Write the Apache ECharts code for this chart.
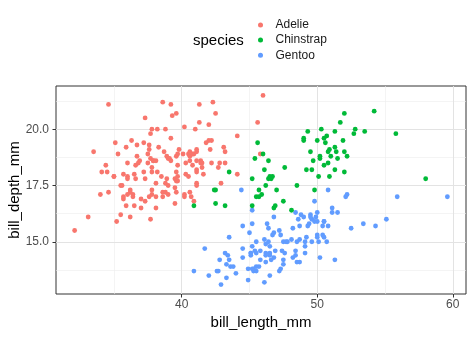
<!DOCTYPE html>
<html>
<head>
<meta charset="utf-8">
<script src="https://cdn.jsdelivr.net/npm/echarts@6/dist/echarts.min.js"></script>
<style>
  html, body { margin: 0; padding: 0; background: #fff; }
  #chart { width: 474px; height: 338px; }
</style>
</head>
<body>
<div id="chart"></div>
<script>
// Palmer penguins: bill length vs bill depth, by species
const speciesNames = ['Adelie', 'Chinstrap', 'Gentoo'];

// [bill_length_mm, bill_depth_mm]
const adelie = [
  [39.1,18.7],[39.5,17.4],[40.3,18.0],[36.7,19.3],[39.3,20.6],[38.9,17.8],[39.2,19.6],[34.1,18.1],
  [42.0,20.2],[37.8,17.1],[37.8,17.3],[41.1,17.6],[38.6,21.2],[34.6,21.1],[36.6,17.8],[38.7,19.0],
  [42.5,20.7],[34.4,18.4],[46.0,21.5],[37.8,18.3],[37.7,18.7],[35.9,19.2],[38.2,18.1],[38.8,17.2],
  [35.3,18.9],[40.6,18.6],[40.5,17.9],[37.9,18.6],[40.5,18.9],[39.5,16.7],[37.2,18.1],[39.5,17.8],
  [40.9,18.9],[36.4,17.0],[39.2,21.1],[38.8,20.0],[42.2,18.5],[37.6,19.3],[39.8,19.1],[36.5,18.0],
  [40.8,18.4],[36.0,18.5],[44.1,19.7],[37.0,16.9],[39.6,18.8],[41.1,19.0],[37.5,18.9],[36.0,17.9],
  [42.3,21.2],[39.6,17.7],[40.1,18.9],[35.0,17.9],[42.0,19.5],[34.5,18.1],[41.4,18.6],[39.0,17.5],
  [40.6,18.8],[36.5,16.6],[37.6,19.1],[35.7,16.9],[41.3,21.1],[37.6,17.0],[41.1,18.2],[36.4,17.1],
  [41.6,18.0],[35.5,16.2],[41.1,19.1],[35.9,16.6],[41.8,19.4],[33.5,19.0],[39.7,18.4],[39.6,17.2],
  [45.8,18.9],[35.5,17.5],[42.8,18.5],[40.9,16.8],[37.2,19.4],[36.2,16.1],[42.1,19.1],[34.6,17.2],
  [42.9,17.6],[36.7,18.8],[35.1,19.4],[37.3,17.8],[41.3,20.3],[36.3,19.5],[36.9,18.6],[38.3,19.2],
  [38.9,18.8],[35.7,18.0],[41.1,18.1],[34.0,17.1],[39.6,18.1],[36.2,17.3],[40.8,18.9],[38.1,18.6],
  [40.3,18.5],[33.1,16.1],[43.2,18.5],[35.0,17.9],[41.0,20.0],[37.7,16.0],[37.8,20.0],[37.9,18.6],
  [39.7,18.9],[38.6,17.2],[38.2,20.0],[38.1,17.0],[43.2,19.0],[38.1,16.5],[45.6,20.3],[39.7,17.7],
  [42.2,19.5],[39.6,20.7],[42.7,18.3],[38.6,17.0],[37.3,20.5],[35.7,17.0],[41.1,18.6],[36.2,17.2],
  [37.7,19.8],[40.2,17.0],[41.4,18.5],[35.2,15.9],[40.6,19.0],[38.8,17.6],[41.5,18.3],[39.0,17.1],
  [44.1,18.0],[38.5,17.9],[43.1,19.2],[36.8,18.5],[37.5,18.5],[38.1,17.6],[41.1,17.5],[35.6,17.5],
  [40.2,20.1],[37.0,16.5],[39.7,17.9],[40.2,17.1],[40.6,17.2],[32.1,15.5],[40.7,17.0],[37.3,16.8],
  [39.0,18.7],[39.2,18.6],[36.6,18.4],[36.0,17.8],[37.8,18.1],[36.0,17.1],[41.5,18.5]
];

const gentoo = [
  [46.1,13.2],[50.0,16.3],[48.7,14.1],[50.0,15.2],[47.6,14.5],[46.5,13.5],[45.4,14.6],[46.7,15.3],
  [43.3,13.4],[46.8,15.4],[40.9,13.7],[49.0,16.1],[45.5,13.7],[48.4,14.6],[45.8,14.6],[49.3,15.7],
  [42.0,13.5],[49.2,15.2],[46.2,14.5],[48.7,15.1],[50.2,14.3],[45.1,14.5],[46.5,14.5],[46.3,15.8],
  [42.9,13.1],[46.1,15.1],[44.5,14.3],[47.8,15.0],[48.2,14.3],[50.0,15.3],[47.3,15.3],[42.8,14.2],
  [45.1,14.5],[59.6,17.0],[49.1,14.8],[48.4,16.3],[42.6,13.7],[44.4,17.3],[44.0,13.6],[48.7,15.7],
  [42.7,13.7],[49.6,16.0],[45.3,13.7],[49.6,15.0],[50.5,15.9],[43.6,13.9],[45.5,13.9],[50.5,15.9],
  [44.9,13.3],[45.2,15.8],[46.6,14.2],[48.5,14.1],[45.1,14.4],[50.1,15.0],[46.5,14.4],[45.0,15.4],
  [43.8,13.9],[45.5,15.0],[43.2,14.5],[50.4,15.3],[45.3,13.8],[46.2,14.9],[45.7,13.9],[54.3,15.7],
  [45.8,14.2],[49.8,16.8],[46.2,14.4],[49.5,16.2],[43.5,14.2],[50.7,15.0],[47.7,15.0],[46.4,15.6],
  [48.2,15.6],[46.5,14.8],[46.4,15.0],[48.6,16.0],[47.5,14.2],[51.1,16.3],[45.2,13.8],[45.2,16.4],
  [49.1,14.5],[52.5,15.6],[47.4,14.6],[50.0,15.9],[44.9,13.8],[50.8,17.3],[43.4,14.4],[51.3,14.2],
  [47.5,14.0],[52.1,17.0],[47.5,15.0],[52.2,17.1],[45.5,14.5],[49.5,16.1],[44.5,14.7],[50.8,15.7],
  [49.4,15.8],[46.9,14.6],[48.4,14.4],[51.1,16.5],[48.5,15.0],[55.9,17.0],[47.2,15.5],[49.1,15.0],
  [47.3,13.8],[46.8,16.1],[41.7,14.7],[53.4,15.8],[43.3,14.0],[48.1,15.1],[50.5,15.2],[49.8,15.9],
  [43.5,15.2],[51.5,16.3],[46.2,14.1],[55.1,16.0],[44.5,15.7],[48.8,16.2],[47.2,13.7],[46.8,14.3],
  [50.4,15.7],[45.2,14.8],[49.9,16.1]
];

const chinstrap = [
  [46.5,17.9],[50.0,19.5],[51.3,19.2],[45.4,18.7],[52.7,19.8],[45.2,17.8],[46.1,18.2],[51.3,18.2],
  [46.0,18.9],[51.3,19.9],[46.6,17.8],[51.7,20.3],[47.0,17.3],[52.0,18.1],[45.9,17.1],[50.5,19.6],
  [50.3,20.0],[58.0,17.8],[46.4,18.6],[49.2,18.2],[42.4,17.3],[48.5,17.5],[43.2,16.6],[50.6,19.4],
  [46.7,17.9],[52.0,19.0],[50.5,18.4],[49.5,19.0],[46.4,17.8],[52.8,20.0],[40.9,16.6],[54.2,20.8],
  [42.5,16.7],[51.0,18.8],[49.7,18.6],[47.5,16.8],[47.6,18.3],[52.0,20.7],[46.9,16.6],[53.5,19.9],
  [49.0,19.5],[46.2,17.5],[50.9,19.1],[45.5,17.0],[50.9,17.9],[50.8,18.5],[50.1,17.9],[49.0,19.6],
  [51.5,18.7],[49.8,17.3],[48.1,16.4],[51.4,19.0],[45.7,17.3],[50.7,19.7],[42.5,17.3],[52.2,18.8],
  [45.2,16.6],[49.3,19.9],[50.2,18.8],[45.6,19.4],[51.9,19.5],[46.8,16.5],[45.7,17.0],[55.8,19.8],
  [43.5,18.1],[49.6,18.2],[50.8,19.0],[50.2,18.7]
];

// Axis breaks
const xBreaks = [40, 50, 60];
const xMinorBreaks = [35, 45, 55];
const yBreaks = [15, 17.5, 20];
const yMinorBreaks = [13.75, 16.25, 18.75, 21.25];
const xLimits = [30.725, 60.975];
const yLimits = [12.68, 21.92];

const colors = { Adelie: '#F8766D', Chinstrap: '#00BA38', Gentoo: '#619CFF' };
const FONT = 'Liberation Sans, Arial, Helvetica, sans-serif';

const gridLines = [];
xMinorBreaks.forEach(v => gridLines.push({ xAxis: v, lineStyle: { color: '#EDEDED', width: 0.6, type: 'solid' } }));
yMinorBreaks.forEach(v => gridLines.push({ yAxis: v, lineStyle: { color: '#EDEDED', width: 0.6, type: 'solid' } }));
xBreaks.forEach(v => gridLines.push({ xAxis: v, lineStyle: { color: '#E3E3E3', width: 1, type: 'solid' } }));
yBreaks.forEach(v => gridLines.push({ yAxis: v, lineStyle: { color: '#E3E3E3', width: 1, type: 'solid' } }));

function pointSeries(name, data) {
  return {
    name: name,
    type: 'scatter',
    data: data,
    symbol: 'circle',
    symbolSize: 4.8,
    itemStyle: { color: colors[name], opacity: 1, borderWidth: 0 },
    emphasis: { disabled: true },
    z: 3
  };
}

const chart = echarts.init(document.getElementById('chart'), null, { renderer: 'canvas' });
chart.setOption({
  animation: false,
  backgroundColor: '#ffffff',
  textStyle: { fontFamily: FONT },
  grid: {
    left: 56, right: 8, top: 86, bottom: 44,
    outerBoundsMode: 'none',
    show: true, borderColor: '#333333', borderWidth: 1, backgroundColor: '#ffffff',
    containLabel: false
  },
  legend: {
    data: speciesNames,
    orient: 'vertical',
    left: 253, top: 12,
    icon: 'circle',
    itemWidth: 20, itemHeight: 5,
    itemGap: -0.9,
    textStyle: { fontSize: 12, color: '#1a1a1a', lineHeight: 16, fontFamily: FONT },
    selectedMode: false
  },
  graphic: [{
    type: 'text', x: 193, y: 41,
    style: { text: 'species', fontSize: 15, fontFamily: FONT, fill: '#000000', verticalAlign: 'middle', align: 'left' }
  }],
  xAxis: {
    type: 'value',
    min: xLimits[0], max: xLimits[1],
    name: 'bill_length_mm', nameLocation: 'middle', nameGap: 21,
    nameMoveOverlap: false,
    nameTextStyle: { fontSize: 15, color: '#000000', fontFamily: FONT },
    axisLine: { show: false },
    axisTick: { show: true, length: 3.5, lineStyle: { color: '#333333', width: 1 }, customValues: xBreaks },
    axisLabel: { fontSize: 12, color: '#4D4D4D', margin: 5, customValues: xBreaks, fontFamily: FONT },
    splitLine: { show: false }
  },
  yAxis: {
    type: 'value',
    min: yLimits[0], max: yLimits[1],
    name: 'bill_depth_mm', nameLocation: 'middle', nameGap: 34, nameRotate: 90,
    nameMoveOverlap: false,
    nameTextStyle: { fontSize: 15, color: '#000000', fontFamily: FONT },
    axisLine: { show: false },
    axisTick: { show: true, length: 3.5, lineStyle: { color: '#333333', width: 1 }, customValues: yBreaks },
    axisLabel: { fontSize: 12, color: '#4D4D4D', margin: 7, customValues: yBreaks, fontFamily: FONT,
      formatter: v => v.toFixed(1) },
    splitLine: { show: false }
  },
  series: [
    {
      name: 'panel-grid', type: 'scatter', data: [], silent: true, z: 1,
      markLine: { silent: true, z: 1, symbol: ['none', 'none'], label: { show: false }, animation: false, data: gridLines }
    },
    pointSeries('Adelie', adelie),
    pointSeries('Gentoo', gentoo),
    pointSeries('Chinstrap', chinstrap)
  ]
});
</script>
</body>
</html>
